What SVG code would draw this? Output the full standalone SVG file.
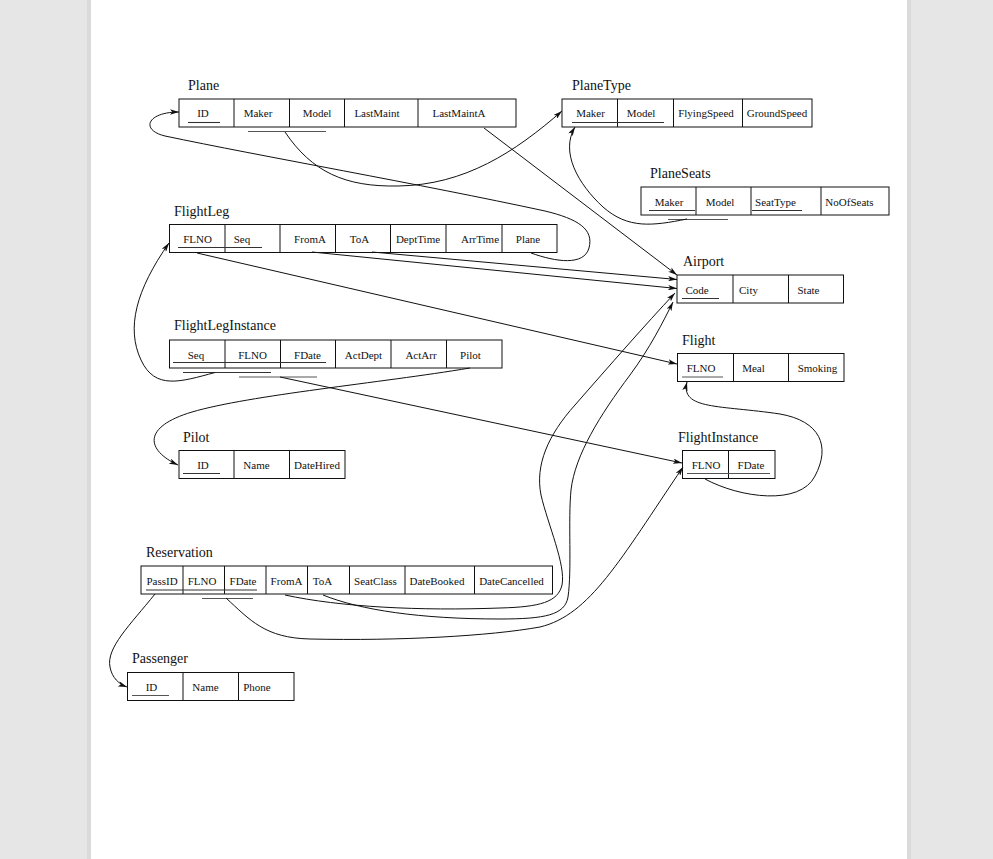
<svg xmlns="http://www.w3.org/2000/svg" width="993" height="859" viewBox="0 0 993 859">
<style>
.box{fill:none;stroke:#111;stroke-width:1}
.div{stroke:#111;stroke-width:1}
.ul{stroke:#333;stroke-width:1.1}
.fk{stroke:#555;stroke-width:1.2}
.t{font-family:"Liberation Serif","Times New Roman",serif;font-size:11px;fill:#111;text-anchor:middle}
.lbl{font-family:"Liberation Serif","Times New Roman",serif;font-size:14px;fill:#111}
.c{fill:none;stroke:#111;stroke-width:1;marker-end:url(#arr)}
</style>
<defs>
<marker id="arr" viewBox="0 0 10 6" refX="10" refY="3" markerWidth="9" markerHeight="5.4" markerUnits="userSpaceOnUse" orient="auto">
<path d="M0,0 L10,3 L0,6 L2.5,3 z" fill="#111"/>
</marker>
</defs>
<rect x="0" y="0" width="993" height="859" fill="#e6e6e6"/>
<rect x="87" y="0" width="824" height="859" fill="#dadada"/>
<rect x="91" y="0" width="816" height="859" fill="#ffffff"/>

<g id="Plane">
<text class="lbl" x="188" y="90">Plane</text>
<rect class="box" x="179" y="99" width="337" height="28"/>
<path class="div" d="M234,99V127M289.5,99V127M344.5,99V127M418,99V127"/>
<text class="t" x="203" y="117">ID</text>
<text class="t" x="258" y="117">Maker</text>
<text class="t" x="317" y="117">Model</text>
<text class="t" x="377" y="117">LastMaint</text>
<text class="t" x="459" y="117">LastMaintA</text>
<path class="ul" d="M188,122.5H220"/>
<path class="fk" d="M248,131.5H326"/>
</g>

<g id="PlaneType">
<text class="lbl" x="572" y="90">PlaneType</text>
<rect class="box" x="562" y="99" width="250" height="28"/>
<path class="div" d="M617.5,99V127M673.5,99V127M742.5,99V127"/>
<text class="t" x="590.5" y="117">Maker</text>
<text class="t" x="641" y="117">Model</text>
<text class="t" x="706" y="117">FlyingSpeed</text>
<text class="t" x="777" y="117">GroundSpeed</text>
<path class="ul" d="M572,122.5H664"/>
</g>

<g id="PlaneSeats">
<text class="lbl" x="650" y="178">PlaneSeats</text>
<rect class="box" x="641" y="187" width="248" height="28"/>
<path class="div" d="M696,187V215M751,187V215M821,187V215"/>
<text class="t" x="669" y="206">Maker</text>
<text class="t" x="720" y="206">Model</text>
<text class="t" x="775.5" y="206">SeatType</text>
<text class="t" x="849.5" y="206">NoOfSeats</text>
<path class="ul" d="M649,210.5H695M752,210.5H802"/>
<path class="fk" d="M668,219.5H728"/>
</g>

<g id="FlightLeg">
<text class="lbl" x="174" y="216">FlightLeg</text>
<rect class="box" x="169.5" y="224.5" width="387.5" height="28"/>
<path class="div" d="M225,224.5V252.5M280,224.5V252.5M335.5,224.5V252.5M390.5,224.5V252.5M446,224.5V252.5M502,224.5V252.5"/>
<text class="t" x="197.5" y="243">FLNO</text>
<text class="t" x="242" y="243">Seq</text>
<text class="t" x="310" y="243">FromA</text>
<text class="t" x="359.5" y="243">ToA</text>
<text class="t" x="418" y="243">DeptTime</text>
<text class="t" x="480" y="243">ArrTime</text>
<text class="t" x="528" y="243">Plane</text>
<path class="ul" d="M178,247.5H262"/>
</g>

<g id="Airport">
<text class="lbl" x="683" y="266">Airport</text>
<rect class="box" x="677" y="275" width="166.5" height="28"/>
<path class="div" d="M733,275V303M788.5,275V303"/>
<text class="t" x="697" y="294">Code</text>
<text class="t" x="748.5" y="294">City</text>
<text class="t" x="808.5" y="294">State</text>
<path class="ul" d="M682,298.5H719"/>
</g>

<g id="FlightLegInstance">
<text class="lbl" x="174" y="330">FlightLegInstance</text>
<rect class="box" x="169.5" y="340" width="332.5" height="28"/>
<path class="div" d="M225,340V368M280.5,340V368M335.5,340V368M391,340V368M446.5,340V368"/>
<text class="t" x="196" y="359">Seq</text>
<text class="t" x="252.5" y="359">FLNO</text>
<text class="t" x="307.5" y="359">FDate</text>
<text class="t" x="363.5" y="359">ActDept</text>
<text class="t" x="421" y="359">ActArr</text>
<text class="t" x="470.5" y="359">Pilot</text>
<path class="ul" d="M173,362.5H326"/>
<path class="ul" d="M183,372.5H271"/>
<path class="fk" d="M239,377H317"/>
</g>

<g id="Flight">
<text class="lbl" x="682" y="345">Flight</text>
<rect class="box" x="677.5" y="353.5" width="166.5" height="28"/>
<path class="div" d="M733.5,353.5V381.5M788.5,353.5V381.5"/>
<text class="t" x="701" y="372">FLNO</text>
<text class="t" x="753.5" y="372">Meal</text>
<text class="t" x="817.5" y="372">Smoking</text>
<path class="fk" d="M682,377H723"/>
</g>

<g id="Pilot">
<text class="lbl" x="183" y="442">Pilot</text>
<rect class="box" x="179" y="450.5" width="166" height="28"/>
<path class="div" d="M234,450.5V478.5M289.5,450.5V478.5"/>
<text class="t" x="203" y="469">ID</text>
<text class="t" x="256.5" y="469">Name</text>
<text class="t" x="317" y="469">DateHired</text>
<path class="ul" d="M183,473.5H220"/>
</g>

<g id="FlightInstance">
<text class="lbl" x="678" y="442">FlightInstance</text>
<rect class="box" x="682.5" y="450.5" width="92.5" height="28"/>
<path class="div" d="M728.5,450.5V478.5"/>
<text class="t" x="706" y="469">FLNO</text>
<text class="t" x="751" y="469">FDate</text>
<path class="fk" d="M687,473.5H770"/>
</g>

<g id="Reservation">
<text class="lbl" x="146" y="557">Reservation</text>
<rect class="box" x="141" y="566" width="411.5" height="28"/>
<path class="div" d="M183,566V594M224.5,566V594M266,566V594M307.5,566V594M349.5,566V594M405,566V594M474.5,566V594"/>
<text class="t" x="162" y="585">PassID</text>
<text class="t" x="202" y="585">FLNO</text>
<text class="t" x="243" y="585">FDate</text>
<text class="t" x="286.5" y="585">FromA</text>
<text class="t" x="322.5" y="585">ToA</text>
<text class="t" x="375.5" y="585">SeatClass</text>
<text class="t" x="437" y="585">DateBooked</text>
<text class="t" x="511.5" y="585">DateCancelled</text>
<path class="ul" d="M146,590H257"/>
<path class="fk" d="M202,598.5H253"/>
</g>

<g id="Passenger">
<text class="lbl" x="132" y="663">Passenger</text>
<rect class="box" x="127.5" y="672.5" width="166.5" height="28"/>
<path class="div" d="M183,672.5V700.5M238.5,672.5V700.5"/>
<text class="t" x="151.5" y="691">ID</text>
<text class="t" x="205.5" y="691">Name</text>
<text class="t" x="257" y="691">Phone</text>
<path class="fk" d="M132,695.5H169"/>
</g>

<g id="connectors">
<path class="c" d="M531,253 C556,262 584,266 589,248 C594,229 578,219 545,211 C420,184 260,156 165,136 C140,130 147,112 179,112"/>
<path class="c" d="M285,132 C312,172 345,187 398,186 C465,185 515,152 562,111"/>
<path class="c" d="M484,128 L677,275"/>
<path class="c" d="M687,219 C652,226 628,229 603,207 C578,184 560,152 575,127"/>
<path class="c" d="M372,252 L677,279.5"/>
<path class="c" d="M312,252 L677,288.5"/>
<path class="c" d="M197,253 L677,364"/>
<path class="c" d="M215,372.5 C180,382 155,390 141,360 C126,328 136,290 169,243"/>
<path class="c" d="M280,377 L682,463"/>
<path class="c" d="M470,368 C380,383 250,395 192,412 C142,427 146,450 178,465"/>
<path class="c" d="M705,479 C740,498 800,506 815,476 C831,446 820,421 780,414 C720,405 680,410 687,382"/>
<path class="c" d="M155,594 C130,625 106,648 110,667 C112,678 119,684 127,687"/>
<path class="c" d="M285,595 C340,607 420,611 500,608 C540,607 558,602 562,585 C566,565 548,525 541,495 C535,465 548,435 575,405 C610,365 645,325 675,293"/>
<path class="c" d="M323,595 C360,610 420,619 500,619 C545,619 565,615 568,597 C572,570 568,520 571,490 C575,455 600,415 630,375 C650,348 663,322 673,302"/>
<path class="c" d="M226,598 C250,620 265,638 310,639 C400,641 490,636 540,627 C590,615 620,560 683,467"/>
</g>
</svg>
